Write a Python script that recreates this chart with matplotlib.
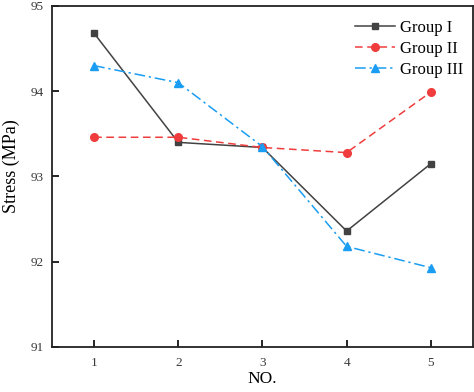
import matplotlib
matplotlib.use("Agg")
import matplotlib.pyplot as plt

plt.rcParams['font.family'] = ['Liberation Serif', 'DejaVu Serif']

# ── data ──────────────────────────────────────────────────────────────
no = [1, 2, 3, 4, 5]
group_1 = [94.68, 93.40, 93.34, 92.36, 93.15]
group_2 = [93.46, 93.46, 93.34, 93.28, 93.99]
group_3 = [94.30, 94.10, 93.35, 92.18, 91.93]

# ── plot ──────────────────────────────────────────────────────────────
fig = plt.figure(figsize=(4.74, 3.92), dpi=100)
ax = fig.add_axes([0.1097, 0.1148, 0.888, 0.870])

ax.plot(no, group_1, color='#424242', ls='-', lw=1.1, marker='s', ms=5, label='Group I')
ax.plot(no, group_2, color='#ef3d3d', ls=(0, (5, 3)), lw=1.1, marker='o', ms=5.5, label='Group II')
ax.plot(no, group_3, color='#1a9df2', ls=(0, (7, 2.5, 1.5, 2.5)), lw=1.1, marker='^', ms=6, label='Group III')

ax.set_xlim(0.5, 5.5)
ax.set_ylim(91, 95)
ax.set_xticks(no)
ax.set_yticks([91, 92, 93, 94, 95])
ax.tick_params(direction='in', length=5, width=1.2, labelsize=9.5, labelcolor='#3a3a3a')
ax.tick_params(axis='y', pad=6)
ax.tick_params(axis='x', pad=7)
for s in ax.spines.values():
    s.set_linewidth(1.3)
    s.set_color('#222222')

ax.set_ylabel('Stress (MPa)', fontsize=13)
ax.yaxis.set_label_coords(-0.076, 0.53)
ax.set_xlabel('NO.', fontsize=12.5, labelpad=2)

ax.legend(loc='upper right', bbox_to_anchor=(1.0, 0.988), frameon=False, fontsize=12,
          handlelength=2.4, handletextpad=0.25, borderaxespad=0.2, labelspacing=0.3)

fig.savefig('out.png', dpi=100)
